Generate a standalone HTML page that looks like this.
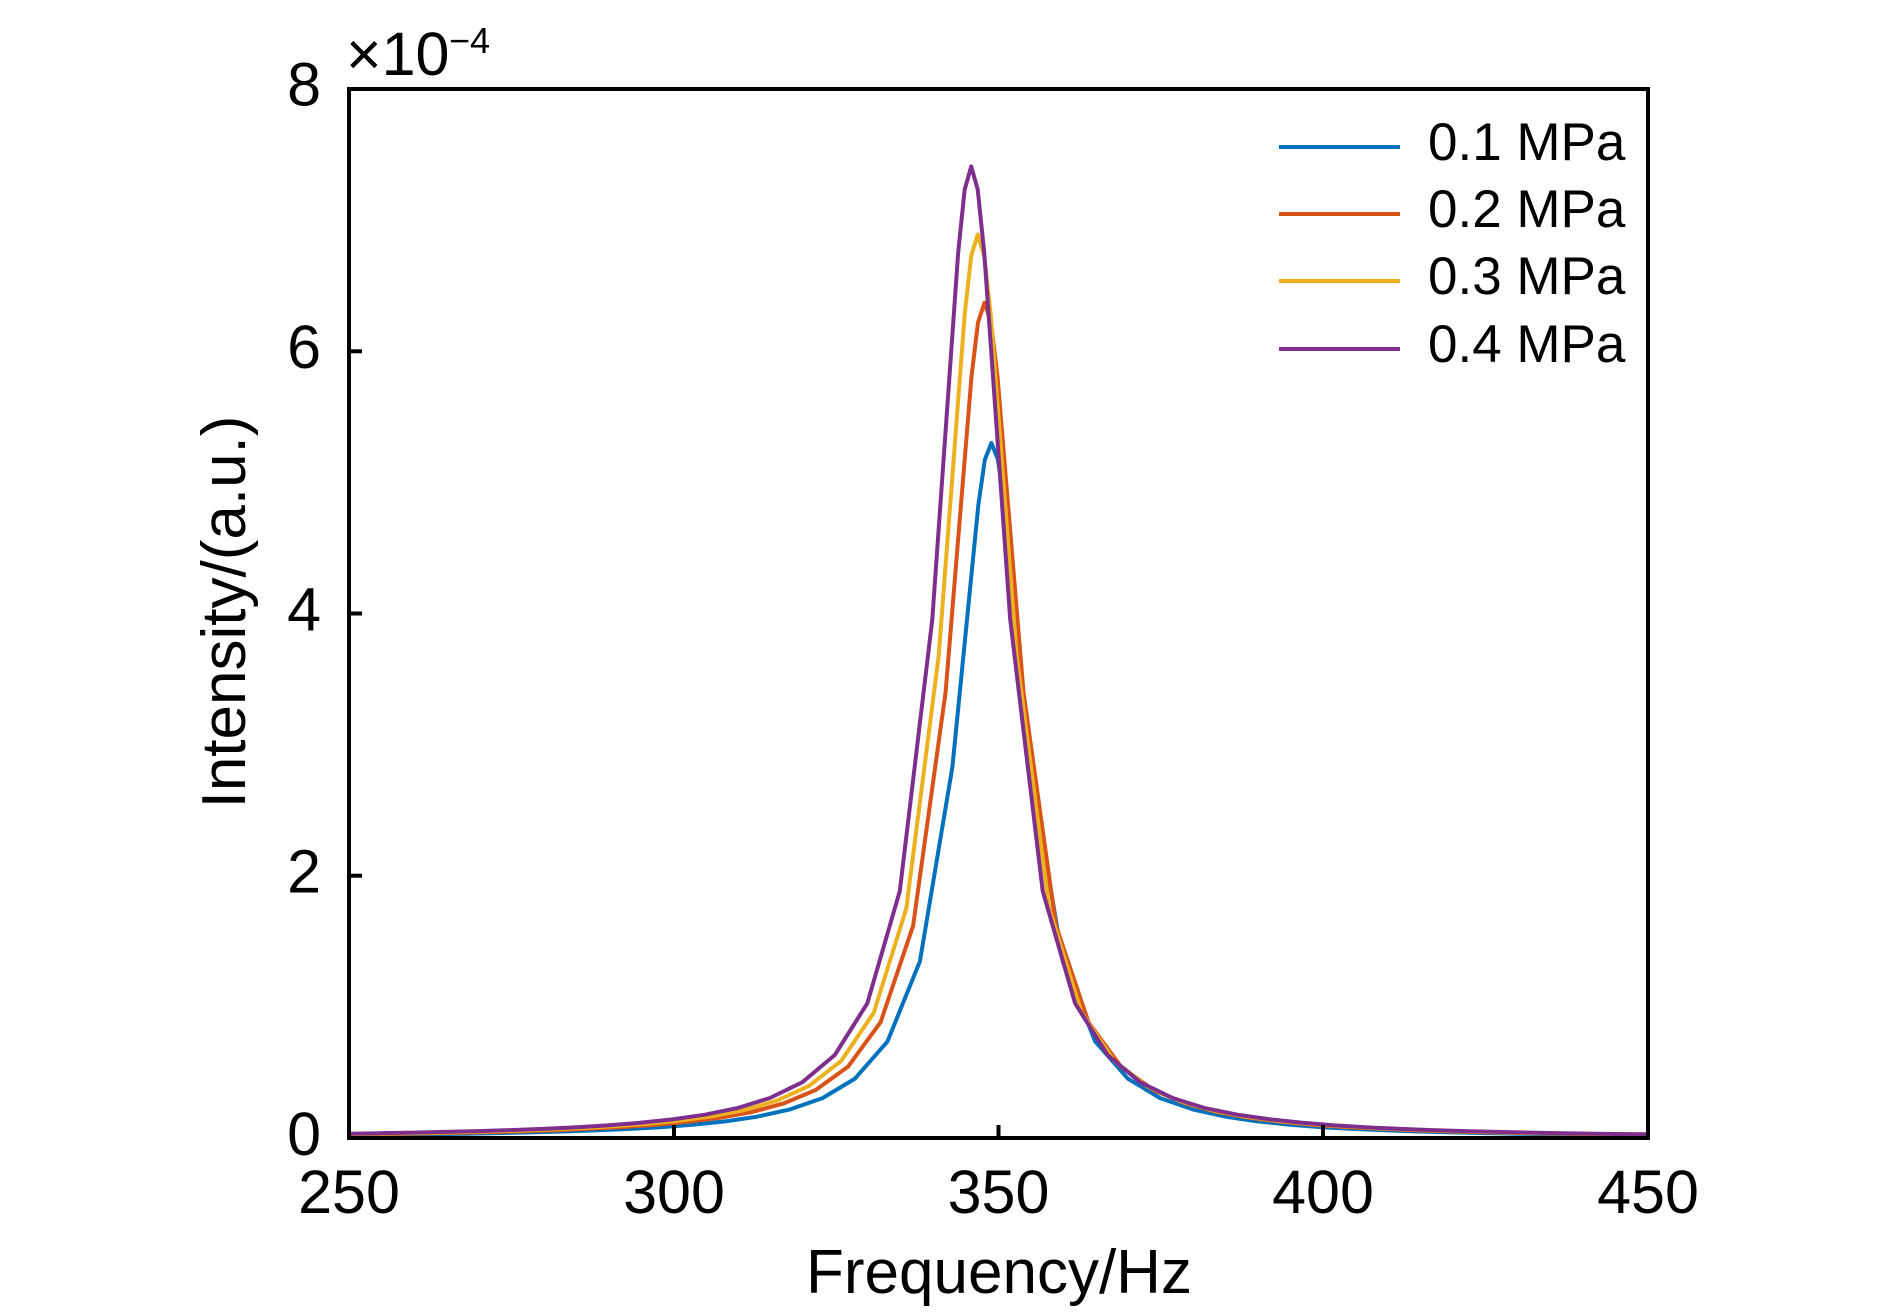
<!DOCTYPE html>
<html>
<head>
<meta charset="utf-8">
<style>
  html, body { margin:0; padding:0; background:#ffffff; }
  svg { display:block; }
  text { font-family: "Liberation Sans", Arial, sans-serif; fill:#000; }
</style>
</head>
<body>
<svg id="chart" width="1890" height="1314" viewBox="0 0 1890 1314" xmlns="http://www.w3.org/2000/svg">
  <rect x="0" y="0" width="1890" height="1314" fill="#ffffff"/>

  <!-- curves -->
  <g id="curves" fill="none" stroke-width="4" stroke-linejoin="round" stroke-linecap="round"></g>

  <!-- axes box -->
  <g stroke="#000" stroke-width="4" fill="none" stroke-linecap="square">
    <line x1="349" y1="89" x2="1648" y2="89"/>
    <line x1="1648" y1="89" x2="1648" y2="1138"/>
    <line x1="349" y1="1138" x2="1648" y2="1138"/>
    <line x1="349" y1="89" x2="349" y2="1138"/>
  </g>

  <!-- x ticks -->
  <g stroke="#000" stroke-width="4">
    <line x1="674" y1="1138" x2="674" y2="1125"/>
    <line x1="998.5" y1="1138" x2="998.5" y2="1125"/>
    <line x1="1323" y1="1138" x2="1323" y2="1125"/>
    <!-- y ticks -->
    <line x1="349" y1="875.7" x2="362" y2="875.7"/>
    <line x1="349" y1="613.5" x2="362" y2="613.5"/>
    <line x1="349" y1="351.3" x2="362" y2="351.3"/>
  </g>

  <!-- x tick labels -->
  <g font-size="61" text-anchor="middle">
    <text x="349" y="1213">250</text>
    <text x="674" y="1213">300</text>
    <text x="998.5" y="1213">350</text>
    <text x="1323" y="1213">400</text>
    <text x="1648" y="1213">450</text>
  </g>

  <!-- y tick labels -->
  <g font-size="61" text-anchor="end">
    <text x="321" y="1155">0</text>
    <text x="321" y="892.5">2</text>
    <text x="321" y="630.5">4</text>
    <text x="321" y="368">6</text>
    <text x="321" y="105.5">8</text>
  </g>

  <!-- exponent -->
  <text x="346" y="75" font-size="61">×10</text>
  <text x="449" y="53" font-size="36">−4</text>

  <!-- axis labels -->
  <text x="999" y="1293" font-size="62" text-anchor="middle">Frequency/Hz</text>
  <text transform="translate(245,612) rotate(-90)" font-size="62" text-anchor="middle">Intensity/(a.u.)</text>

  <!-- legend -->
  <g stroke-width="4">
    <line x1="1279" y1="147" x2="1400" y2="147" stroke="#0072BD"/>
    <line x1="1279" y1="214" x2="1400" y2="214" stroke="#D95319"/>
    <line x1="1279" y1="281" x2="1400" y2="281" stroke="#EDB120"/>
    <line x1="1279" y1="349" x2="1400" y2="349" stroke="#7E2F8E"/>
  </g>
  <g font-size="53">
    <text x="1428" y="160">0.1 MPa</text>
    <text x="1428" y="227">0.2 MPa</text>
    <text x="1428" y="294">0.3 MPa</text>
    <text x="1428" y="362">0.4 MPa</text>
  </g>
</svg>
<script>
(function(){
  var X = function(f){ return 349 + (f-250)*6.495; };
  var Y = function(v){ return 1138 - v*131.125; };
  var g = 6.42;
  var series = [
    {f0:348.9,  A:5.30, c:"#0072BD"},
    {f0:347.85, A:6.37, c:"#D95319"},
    {f0:346.8,  A:6.89, c:"#EDB120"},
    {f0:345.8,  A:7.41, c:"#7E2F8E"}
  ];
  var grp = document.getElementById("curves");
  var ns = "http://www.w3.org/2000/svg";
  series.forEach(function(s){
    var ds = [0,1,-1,2,-2];
    for (var d=6; d<120; d+=5){ ds.push(d); ds.push(-d); }
    var fs = [];
    ds.forEach(function(d){ var f=s.f0+d; if (f>250 && f<450) fs.push(f); });
    fs.push(250); fs.push(450);
    fs.sort(function(a,b){return a-b;});
    var pts = fs.map(function(f){
      var d=(f-s.f0)/g;
      var v=s.A/(1+d*d);
      return X(f).toFixed(1)+","+Y(v).toFixed(1);
    }).join(" ");
    var pl = document.createElementNS(ns,"polyline");
    pl.setAttribute("points", pts);
    pl.setAttribute("stroke", s.c);
    grp.appendChild(pl);
  });
})();
</script>
</body>
</html>
